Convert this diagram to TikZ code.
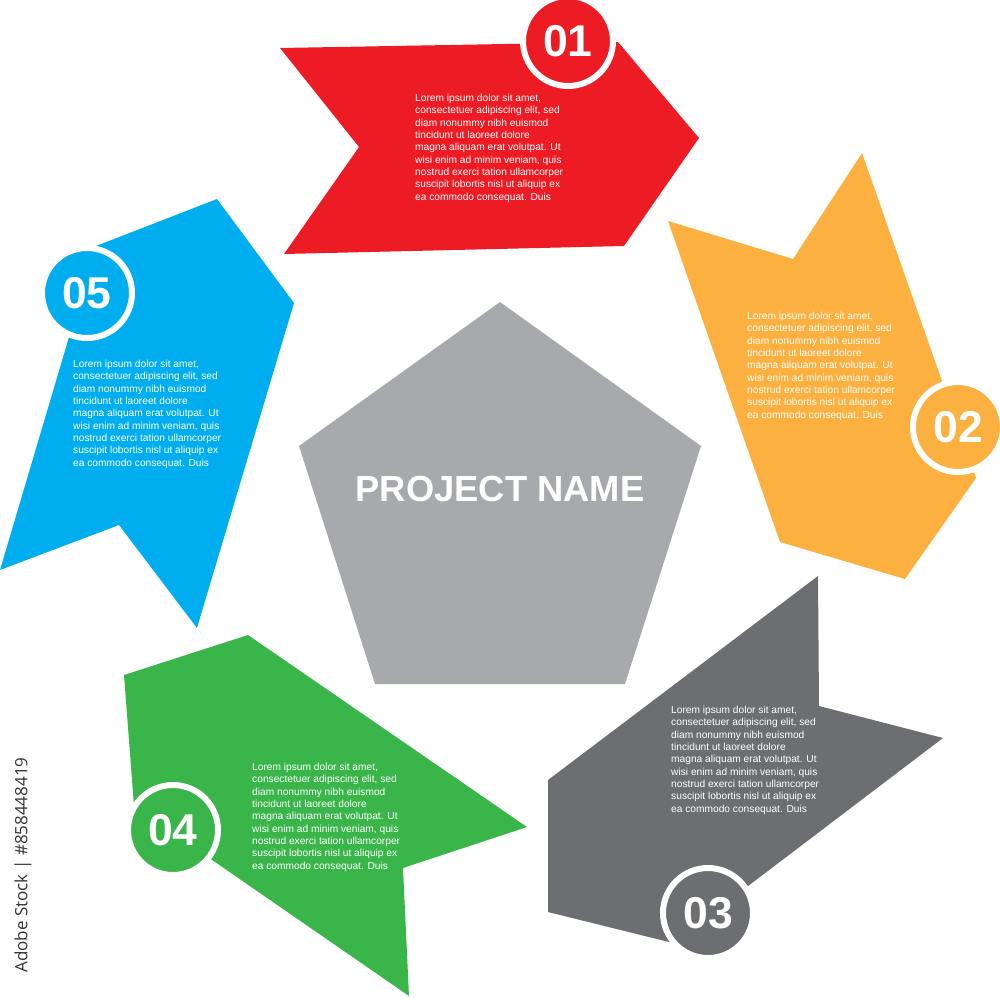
\documentclass[tikz,border=0pt]{standalone}
\usepackage{fontspec}
\setmainfont{Liberation Sans}
\newfontfamily\stockfont{Open Sans}
\usetikzlibrary{positioning}

\definecolor{redA}{HTML}{ED1C24}
\definecolor{orangeA}{HTML}{FBB040}
\definecolor{darkA}{HTML}{6D6E71}
\definecolor{greenA}{HTML}{39B54A}
\definecolor{blueA}{HTML}{00AEEF}
\definecolor{paleA}{HTML}{A7A9AC}

\tikzset{
  numcircle/.style={circle, minimum size=2.7cm, inner sep=0pt, draw=white,
    line width=0.18cm, text=white, font=\fontsize{38}{38}\selectfont\bfseries},
  lorem/.style={anchor=north west, inner sep=0pt, align=left, text=white,
    font=\fontsize{8.7}{10.5}\selectfont}
}

\begin{document}
\begin{tikzpicture}[x=0.03cm,y=-0.03cm]
  \useasboundingbox (0,0) rectangle (1000,997);
  \def\txt{Lorem ipsum dolor sit amet,\\consectetuer adipiscing elit, sed\\diam nonummy nibh euismod\\tincidunt ut laoreet dolore\\magna aliquam erat volutpat. Ut\\wisi enim ad minim veniam, quis\\nostrud exerci tation ullamcorper\\suscipit lobortis nisl ut aliquip ex\\ea commodo consequat. Duis}

  % centre pentagon
  \fill[paleA] (500,302) -- (701,446) -- (625,684) -- (375,684) -- (299,446) -- cycle;
  \node[text=white, font=\fontsize{31}{31}\selectfont\bfseries] (pname) at (500,489) {PROJECT NAME};

  % arrows
  \fill[redA] (280,48) -- (618,42) -- (699,138) -- (624,246) -- (284,254) -- (359,147) -- cycle;
  \fill[orangeA] (668,221) -- (793,259) -- (862,153) -- (976,478) -- (905,579) -- (780,542) -- cycle;
  \fill[darkA] (818,576) -- (819,706) -- (943,738) -- (673,943) -- (548,912) -- (548,780) -- cycle;
  \fill[greenA] (124,675) -- (248,635) -- (527,827) -- (403,868) -- (409,996) -- (134,806) -- cycle;
  \fill[blueA] (217,199) -- (294,303) -- (197,628) -- (119,525) -- (0,570) -- (96,246) -- cycle;

  % texts
  \node[lorem] (t1) at (415,94) {\txt};
  \node[lorem] (t2) at (747,312) {\txt};
  \node[lorem] (t3) at (671,706) {\txt};
  \node[lorem] (t4) at (252,763) {\txt};
  \node[lorem] (t5) at (73,360) {\txt};

  % numbers
  \node[numcircle, fill=redA] (n1) at (568,41) {01};
  \node[numcircle, fill=orangeA] (n2) at (958,427) {02};
  \node[numcircle, fill=darkA] (n3) at (708,913) {03};
  \node[numcircle, fill=greenA] (n4) at (173,830) {04};
  \node[numcircle, fill=blueA] (n5) at (87,293) {05};

  \node[rotate=90, text=black!80, font=\stockfont\fontsize{14.5}{14.5}\selectfont] (stock) at (23,865) {Adobe Stock | \#858448419};
\end{tikzpicture}
\end{document}
